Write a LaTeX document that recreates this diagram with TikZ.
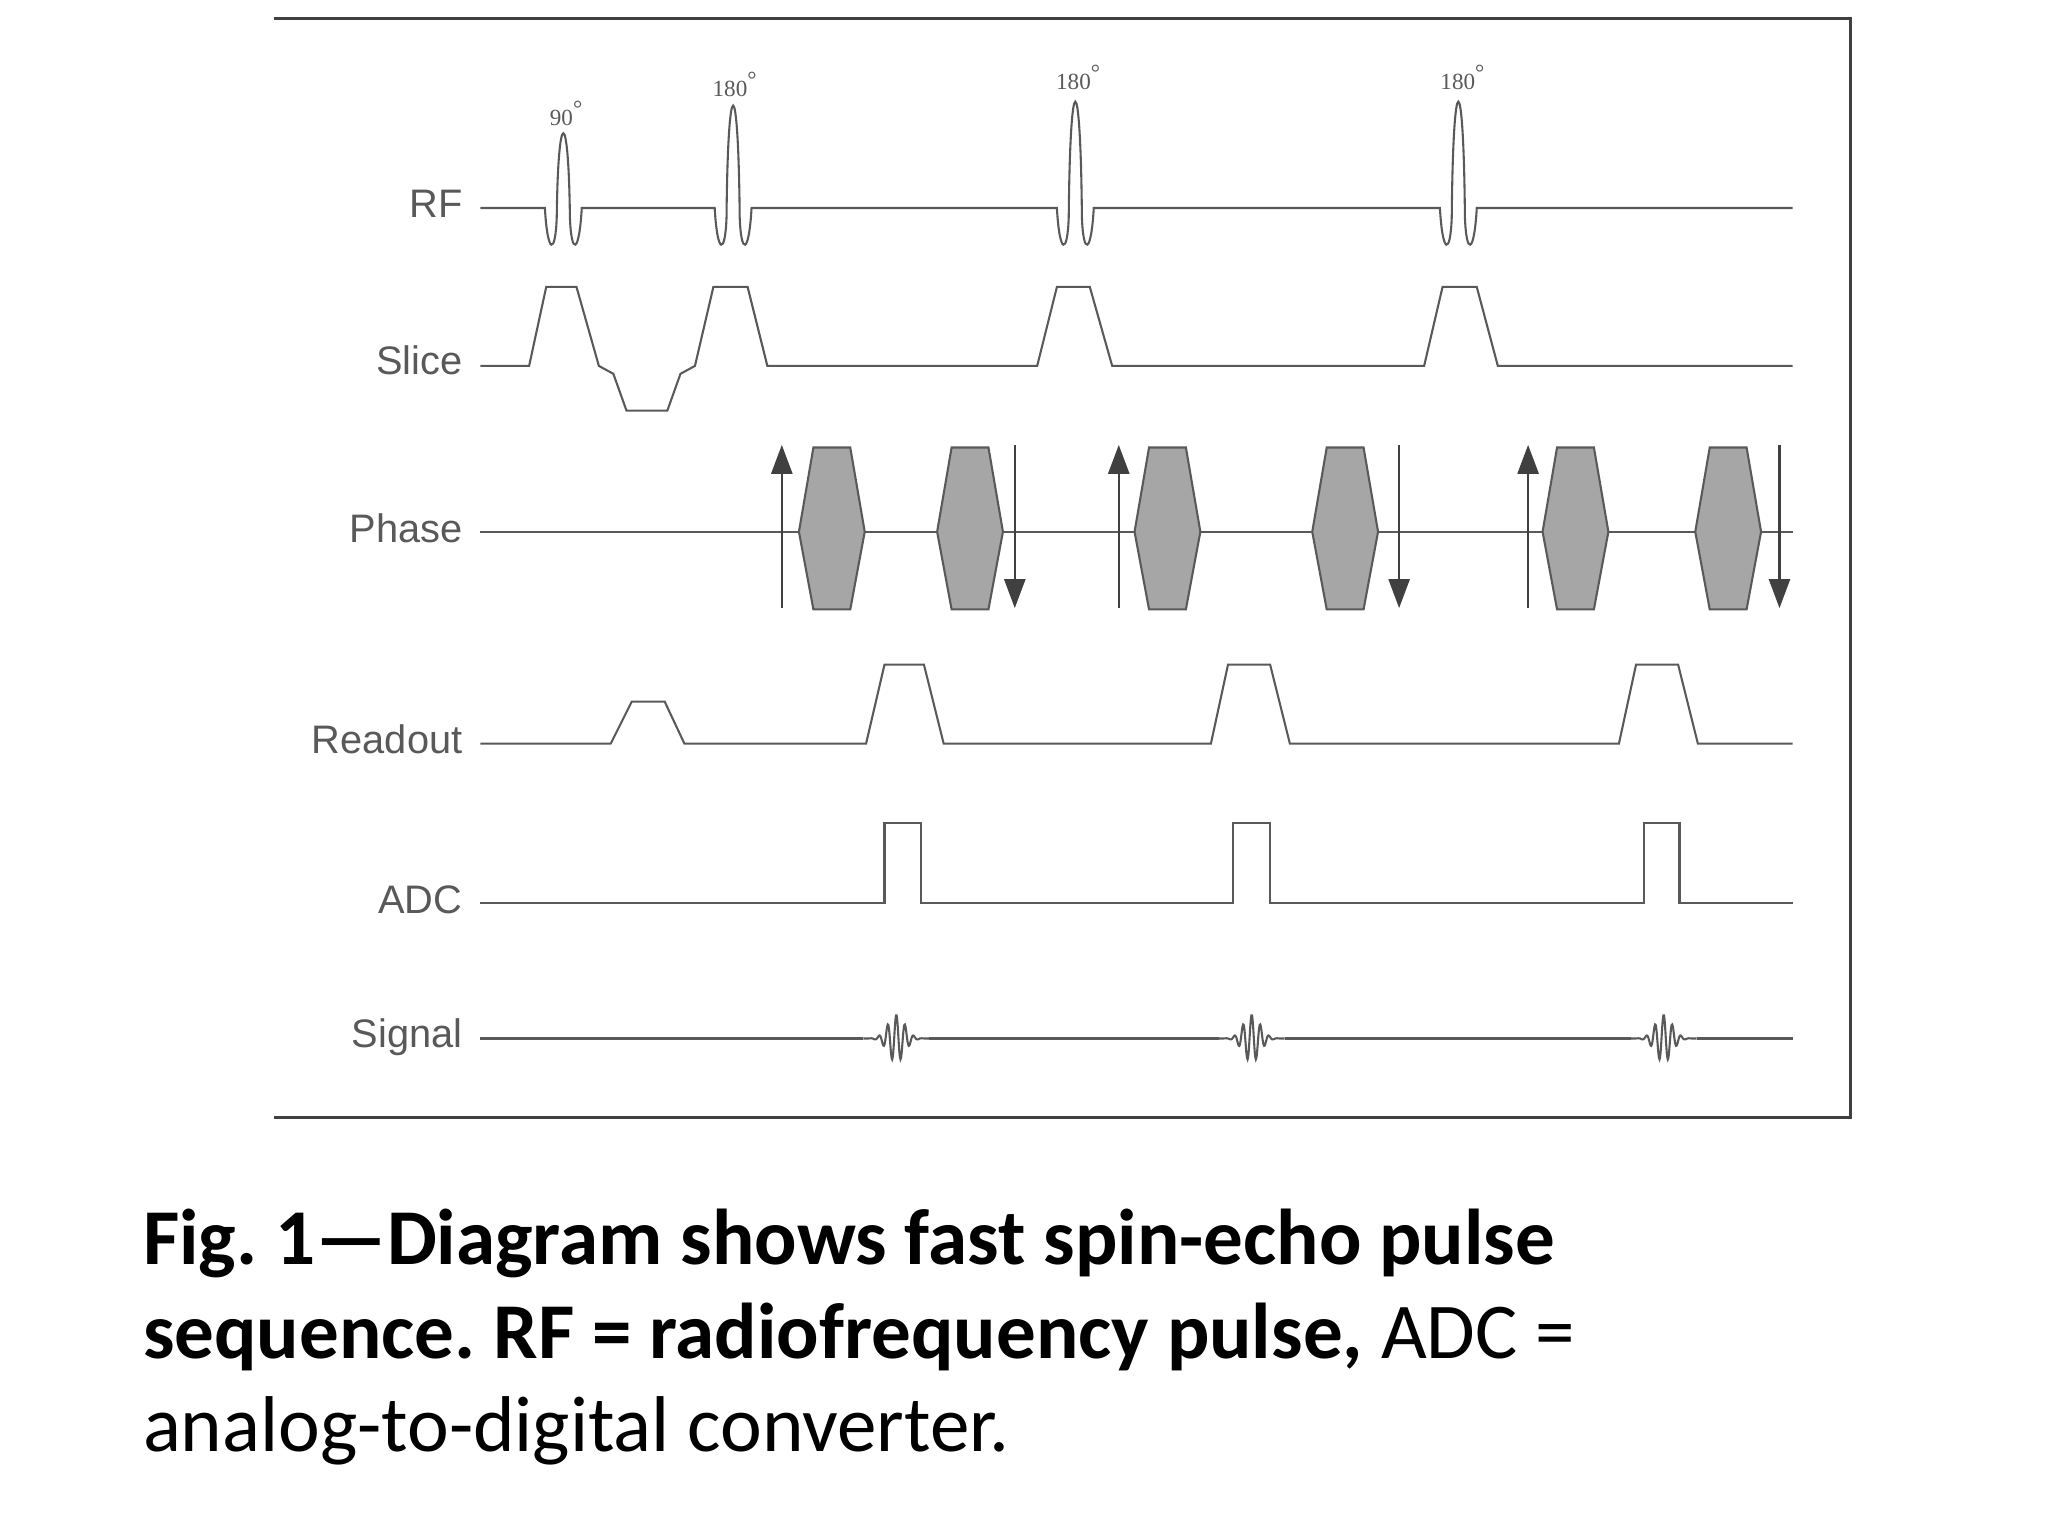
\documentclass[tikz,border=0pt]{standalone}
\usepackage{fontspec}
\setmainfont{Carlito}
\newfontfamily\lab{Liberation Sans}
\newfontfamily\degfont{Liberation Serif}
\usetikzlibrary{arrows.meta}
\frenchspacing
\begin{document}
\begin{tikzpicture}[x=0.1mm,y=-0.1mm,
  wave/.style={draw=black!65,line width=0.45pt},
  lbl/.style={anchor=east,text=black!65,font=\lab\fontsize{8.6}{10}\selectfont,inner sep=0},
  dg/.style={text=black!65,font=\degfont\fontsize{5}{6}\selectfont,inner sep=0},
  hexa/.style={draw=black!65,fill=black!35,line width=0.45pt},
  arr/.style={draw=black!75,line width=0.5pt,-{Triangle[length=2.2mm,width=1.6mm]}}]
\useasboundingbox (0,0) rectangle (1556,1167);
\draw[black!75,line width=0.7pt] (208,14) -- (1406,14) -- (1406,849) -- (208,849);
% labels
\node[lbl] (rf) at (352,155) {RF};
\node[lbl] (sl) at (352,274) {Slice};
\node[lbl] (ph) at (352,401) {Phase};
\node[lbl] (ro) at (352,562) {Readout};
\node[lbl] (adc) at (352,684) {ADC};
\node[lbl] (sg) at (352,788) {Signal};
\node[dg] (d90) at (431,86) {90\textsuperscript{\textdegree}};
\node[dg] (d1) at (559,64) {180\textsuperscript{\textdegree}};
\node[dg] (d2) at (820,59) {180\textsuperscript{\textdegree}};
\node[dg] (d3) at (1112,59) {180\textsuperscript{\textdegree}};
% RF
\def\pulse#1#2{--(#1-14,158) .. controls (#1-12,194) and (#1-6,194) .. (#1-5,165) .. controls (#1-4,#2) and (#1+4,#2) .. (#1+5,165) .. controls (#1+6,194) and (#1+12,194) .. (#1+14,158)}
\draw[wave] (365,158) \pulse{428}{80} \pulse{557}{52} \pulse{817}{48} \pulse{1108}{48} -- (1362,158);
% Slice
\draw[wave] (365,278) -- (402,278) -- (415,218) -- (438,218) -- (455,278) -- (466,284) -- (476,312) -- (507,312) -- (517,284) -- (528,278) -- (542,218) -- (568,218) -- (583,278)
 -- (788,278) -- (803,218) -- (828,218) -- (845,278) -- (1082,278) -- (1096,218) -- (1122,218) -- (1138,278) -- (1362,278);
% Phase
\draw[wave] (365,404) -- (1362,404);
\foreach \c in {632,737,887,1022,1197,1313}
  \draw[hexa] (\c-25,404) -- (\c-14,340) -- (\c+14,340) -- (\c+25,404) -- (\c+14,463) -- (\c-14,463) -- cycle;
\foreach \c in {594,850,1161} \draw[arr] (\c,462) -- (\c,338);
\foreach \c in {771,1063,1352} \draw[arr] (\c,338) -- (\c,462);
% Readout
\draw[wave] (365,565) -- (464,565) -- (480,533) -- (505,533) -- (520,565) -- (658,565) -- (672,505) -- (702,505) -- (717,565)
 -- (920,565) -- (933,505) -- (965,505) -- (980,565) -- (1230,565) -- (1243,505) -- (1275,505) -- (1290,565) -- (1362,565);
% ADC
\draw[wave] (365,686) -- (672,686) -- (672,625) -- (700,625) -- (700,686) -- (937,686) -- (937,625) -- (965,625) -- (965,686)
 -- (1249,686) -- (1249,625) -- (1276,625) -- (1276,686) -- (1362,686);
% Signal
\draw[wave] (365,789) -- (656,789);
\foreach \c in {681,951,1264}{
  \draw[wave,domain=-25:25,samples=120,smooth] plot (\c+\x,{789-18*exp(-(\x/9)^2)*cos(\x*55)});
}
\draw[wave] (706,789) -- (926,789) (976,789) -- (1239,789) (1289,789) -- (1362,789);
% caption
\node[anchor=north west,inner sep=0,align=left,font=\fontsize{17.1}{20.2}\selectfont] (cap) at (108,918)
 {\textbf{Fig. 1---Diagram shows fast spin-echo pulse}\\
  \textbf{sequence. RF = radiofrequency pulse,} ADC =\\
  analog-to-digital converter.};
\end{tikzpicture}
\end{document}
